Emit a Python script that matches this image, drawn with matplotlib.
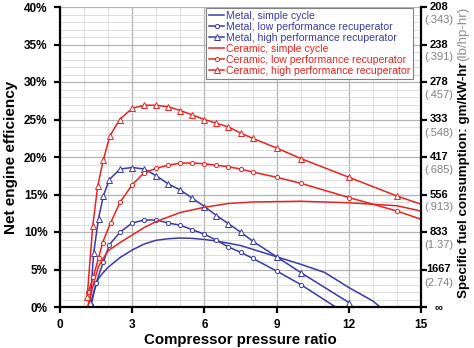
import matplotlib
matplotlib.use('Agg')
import matplotlib.pyplot as plt
import matplotlib.transforms as mtransforms
from matplotlib.ticker import MultipleLocator, FuncFormatter

plt.rcParams['font.family'] = ['Liberation Sans', 'DejaVu Sans']

# (efficiency in %)
metal_simple_x = [1.25, 1.4, 1.6, 1.8, 2.0, 2.5, 3, 3.5, 4, 4.5, 5, 5.5, 6, 6.5, 7, 7.5, 8, 9, 10, 11, 12, 12.5, 13, 13.3]
metal_simple_y = [0, 2.0, 3.8, 4.6, 5.3, 6.6, 7.6, 8.4, 8.9, 9.1, 9.2, 9.15, 9.0, 8.8, 8.5, 8.2, 7.7, 6.7, 5.7, 4.6, 2.6, 1.7, 0.8, 0]

metal_low_x = [1.3, 1.5, 1.8, 2.05, 2.5, 3, 3.5, 4, 4.5, 5, 5.5, 6, 6.5, 7, 7.5, 8, 9, 10, 11.45]
metal_low_y = [0.3, 3.2, 6.0, 8.3, 10.0, 11.2, 11.6, 11.6, 11.2, 10.9, 10.3, 9.7, 8.9, 8.0, 7.3, 6.5, 4.8, 3.0, 0]

metal_high_x = [1.25, 1.4, 1.6, 1.8, 2.05, 2.5, 3, 3.5, 4, 4.5, 5, 5.5, 6, 6.5, 7, 7.5, 8, 9, 10, 12, 12.15]
metal_high_y = [0.5, 7.2, 11.8, 14.8, 17.0, 18.4, 18.6, 18.4, 17.5, 16.4, 15.6, 14.5, 13.4, 12.2, 11.1, 10.0, 8.8, 6.7, 4.6, 0.6, 0]

ceramic_simple_x = [1.15, 1.4, 1.6, 1.8, 2.0, 2.5, 3, 3.5, 4, 5, 6, 7, 8, 10, 12, 14, 15]
ceramic_simple_y = [0, 3.2, 5.4, 6.5, 7.5, 8.6, 9.6, 10.6, 11.4, 12.6, 13.3, 13.8, 14.0, 14.1, 13.9, 13.5, 12.8]

ceramic_low_x = [1.18, 1.38, 1.6, 1.77, 2.1, 2.5, 3, 3.5, 4, 4.5, 5, 5.5, 6, 6.5, 7, 7.5, 8, 9, 10, 12, 14, 15]
ceramic_low_y = [2.0, 4.0, 6.5, 8.6, 11.2, 14.0, 16.3, 17.9, 18.5, 18.9, 19.2, 19.2, 19.1, 18.9, 18.7, 18.4, 18.0, 17.3, 16.5, 14.6, 12.8, 11.7]

ceramic_high_x = [1.13, 1.36, 1.57, 1.8, 2.07, 2.48, 3, 3.5, 4, 4.5, 5, 5.5, 6, 6.5, 7, 7.5, 8, 9, 10, 12, 14, 15]
ceramic_high_y = [1.4, 10.8, 16.2, 19.6, 22.8, 25.0, 26.5, 26.9, 26.9, 26.7, 26.2, 25.6, 25.0, 24.5, 24.0, 23.2, 22.5, 21.2, 19.8, 17.3, 14.8, 13.7]

# right axis labels: sfc in gm/kW-hr and (lb/hp-hr)
sfc_ticks = [40, 35, 30, 25, 20, 15, 10, 5, 0]
sfc_metric = ['208', '238', '278', '333', '417', '556', '833', '1667', '\u221e']
sfc_imperial = ['(.343)', '(.391)', '(.457)', '(.548)', '(.685)', '(.913)', '(1.37)', '(2.74)', '']

blue = '#3a3aa6'
red = '#e8231f'

fig = plt.figure(figsize=(4.74, 3.48), dpi=100)
ax = fig.add_axes([60 / 474, 1 - 307 / 348, 361 / 474, 300 / 348])

mk = dict(mfc='white', mew=0.7, markevery=slice(0, -1))
ax.plot(metal_simple_x, metal_simple_y, color=blue, lw=1.1, label='Metal, simple cycle')
ax.plot(metal_low_x, metal_low_y, color=blue, lw=1.1, marker='o', ms=3, label='Metal, low performance recuperator', **mk)
ax.plot(metal_high_x, metal_high_y, color=blue, lw=1.1, marker='^', ms=3.8, label='Metal, high performance recuperator', **mk)
ax.plot(ceramic_simple_x, ceramic_simple_y, color=red, lw=1.1, label='Ceramic, simple cycle')
ax.plot(ceramic_low_x, ceramic_low_y, color=red, lw=1.1, marker='o', ms=3, label='Ceramic, low performance recuperator', **mk)
ax.plot(ceramic_high_x, ceramic_high_y, color=red, lw=1.1, marker='^', ms=3.8, label='Ceramic, high performance recuperator', **mk)

ax.set_xlim(0, 15)
ax.set_ylim(0, 40)
ax.xaxis.set_major_locator(MultipleLocator(3))
ax.xaxis.set_minor_locator(MultipleLocator(1))
ax.yaxis.set_major_locator(MultipleLocator(5))
ax.yaxis.set_minor_locator(MultipleLocator(1))
ax.yaxis.set_major_formatter(FuncFormatter(lambda v, p: f'{int(v)}%'))

ax.grid(which='major', color='#b4b4b4', lw=0.9)
ax.grid(which='minor', color='#dcdcdc', lw=0.7)
ax.set_axisbelow(True)

for side in ['left', 'right', 'bottom']:
    ax.spines[side].set_linewidth(1.6)
ax.spines['top'].set_visible(False)
ax.tick_params(which='major', length=4, width=1.6, labelsize=8.5, pad=5)
ax.tick_params(which='minor', length=0)
ax.tick_params(axis='y', right=True, which='major')
ax.tick_params(axis='x', pad=5)
for lab in ax.get_xticklabels() + ax.get_yticklabels():
    lab.set_fontweight('bold')

ax.set_xlabel('Compressor pressure ratio', fontsize=10.8, fontweight='bold', va='center')
ax.xaxis.set_label_coords(0.5, (307 - 340) / 300)
ax.set_ylabel('Net engine efficiency', fontsize=11, fontweight='bold', labelpad=4)

# right side sfc labels
base = mtransforms.blended_transform_factory(ax.transAxes, ax.transData)
off = mtransforms.offset_copy(base, fig=fig, y=-13, units='dots')
for t, m, imp in zip(sfc_ticks, sfc_metric, sfc_imperial):
    ax.text(1.05, t, m, transform=base, ha='center', va='center', fontsize=8, fontweight='bold')
    if imp:
        ax.text(1.05, t, imp, transform=off, ha='center', va='center', fontsize=8, color='#808080')

ax.text(1.118, 0.03, 'Specific fuel consumption: gm/kW-hr', transform=ax.transAxes, rotation=90,
        ha='center', va='bottom', fontsize=9.6, fontweight='bold')
ax.text(1.118, 1.0, '(lb/hp-hr)', transform=ax.transAxes, rotation=90,
        ha='center', va='top', fontsize=9.6, color='#909090')

leg = ax.legend(loc='upper left', bbox_to_anchor=((206 - 60) / 361, 1 - 1 / 300), fontsize=7.6,
                frameon=True, fancybox=False, edgecolor='#808080', framealpha=1,
                handlelength=1.5, handletextpad=0.15, borderpad=0.25, labelspacing=0.1,
                borderaxespad=0)
leg.get_frame().set_linewidth(0.8)
for txt, c in zip(leg.get_texts(), [blue] * 3 + [red] * 3):
    txt.set_color(c)

fig.savefig('out.png', dpi=100)
